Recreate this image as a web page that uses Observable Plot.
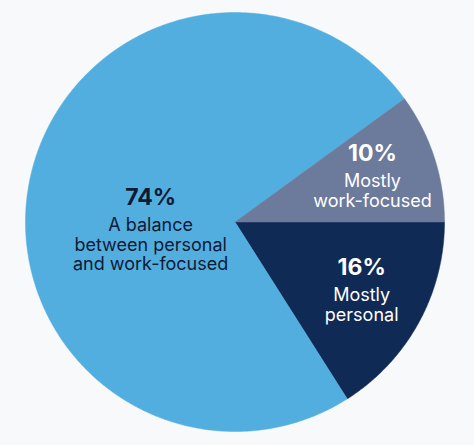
<!DOCTYPE html>
<html>
<head>
<meta charset="utf-8">
<script src="https://cdn.jsdelivr.net/npm/d3@7"></script>
<script src="https://cdn.jsdelivr.net/npm/@observablehq/plot@0.6"></script>
<style>
  html, body { margin: 0; padding: 0; background: #f7f9fa; }
  #chart svg { display: block; background: #f7f9fa; }
</style>
</head>
<body>
<div id="chart"></div>
<script>
// ---- data (clockwise from 3 o'clock) ----
const categories = ["Mostly personal", "A balance between personal and work-focused", "Mostly work-focused"];
const values = [16, 74, 10];
const percentLabels = ["16%", "74%", "10%"];
const descriptions = ["Mostly\npersonal", "A balance\nbetween personal\nand work-focused", "Mostly\nwork-focused"];

// ---- styles ----
const sliceColors = ["#102a56", "#53aee0", "#6c7a9c"];
const inkColors = ["#ffffff", "#0f1a33", "#ffffff"];

const W = 474, H = 445, CX = 234.5, CY = 221.5, R = 209.5;
const PCT_SIZE = 23, LABEL_SIZE = 18, GAP = 26.5, LINE = 19.5;

const table = categories.map((c, i) => ({category: c, value: values[i], pct: percentLabels[i], desc: descriptions[i], ink: inkColors[i]}));
const total = d3.sum(values);
const arcs = d3.pie().sort(null).value(d => d.value)
  .startAngle(Math.PI / 2).endAngle(Math.PI / 2 + 2 * Math.PI)(table);

// slice outlines in unit-circle coordinates, derived from the pie angles
const outline = arcs.flatMap(a => {
  const n = Math.max(2, Math.ceil((a.endAngle - a.startAngle) / (Math.PI / 360)));
  const pts = [{category: a.data.category, x: 0, y: 0}];
  for (let k = 0; k <= n; k++) {
    const t = a.startAngle + (a.endAngle - a.startAngle) * k / n;
    pts.push({category: a.data.category, x: Math.sin(t), y: Math.cos(t)});
  }
  pts.push({category: a.data.category, x: 0, y: 0});
  return pts;
});

function anchorOf(a) {
  const mid = (a.startAngle + a.endAngle) / 2;
  if (a.value / total > 0.5) {
    return {x: Math.sin(mid) * 0.41, y: Math.cos(mid) * 0.41 - 0.112};
  }
  return {x: Math.sin(mid) * 0.69, y: Math.cos(mid) * 0.69 + 0.01};
}

const textMarks = arcs.flatMap(a => {
  const p = anchorOf(a);
  const d = {...a.data, ax: p.x, ay: p.y};
  const nLines = d.desc.split("\n").length;
  const pctBase = -(-0.72 * PCT_SIZE + GAP + LINE * (nLines - 1)) / 2;
  return [
    Plot.text([d], {
      x: "ax", y: "ay", text: "pct", fill: "ink",
      fontSize: PCT_SIZE, fontWeight: 700, lineAnchor: "middle",
      dy: pctBase - 0.32 * PCT_SIZE
    }),
    Plot.text([d], {
      x: "ax", y: "ay", text: "desc", fill: "ink",
      fontSize: LABEL_SIZE, fontWeight: 400, lineAnchor: "top",
      lineHeight: LINE / LABEL_SIZE,
      dy: pctBase + GAP - 0.71 * LINE
    })
  ];
});

const chart = Plot.plot({
  width: W,
  height: H,
  margin: 0,
  style: {background: "#f7f9fa", fontFamily: "Inter, 'Noto Sans', sans-serif"},
  x: {domain: [-CX / R, (W - CX) / R], range: [0, W], axis: null},
  y: {domain: [(CY - H) / R, CY / R], range: [H, 0], axis: null},
  color: {domain: categories, range: sliceColors},
  marks: [
    Plot.line(outline, {x: "x", y: "y", z: "category", fill: "category", stroke: "category", strokeWidth: 0.5, curve: "linear"}),
    ...textMarks
  ]
});
document.getElementById("chart").appendChild(chart);
</script>
</body>
</html>
